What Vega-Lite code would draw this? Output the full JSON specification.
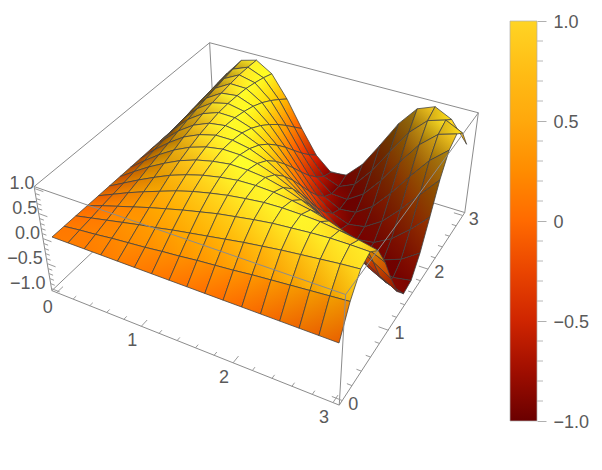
{"$schema":"https://vega.github.io/schema/vega-lite/v6.json","padding":0,"spacing":9,"config":{"view":{"stroke":null},"font":"Liberation Sans"},
"datasets":{
"surface":[
{"x":0,"y":3,"z":0},{"x":0.19,"y":3,"z":0.53},{"x":0.38,"y":3,"z":0.9},{"x":0.56,"y":3,"z":0.99},{"x":0.75,"y":3,"z":0.78},{"x":0.94,"y":3,"z":0.32},{"x":1.13,"y":3,"z":-0.23},{"x":1.31,"y":3,"z":-0.71},{"x":1.5,"y":3,"z":-0.98},{"x":1.69,"y":3,"z":-0.94},{"x":1.88,"y":3,"z":-0.61},{"x":2.06,"y":3,"z":-0.1},{"x":2.25,"y":3,"z":0.45},{"x":2.44,"y":3,"z":0.86},{"x":2.63,"y":3,"z":1},{"x":2.81,"y":3,"z":0.83},{"x":3,"y":3,"z":0.41},
{"x":0,"y":2.81,"z":0},{"x":0.19,"y":2.81,"z":0.5},{"x":0.38,"y":2.81,"z":0.87},{"x":0.56,"y":2.81,"z":1},{"x":0.75,"y":2.81,"z":0.86},{"x":0.94,"y":2.81,"z":0.48},{"x":1.13,"y":2.81,"z":-0.02},{"x":1.31,"y":2.81,"z":-0.52},{"x":1.5,"y":2.81,"z":-0.88},{"x":1.69,"y":2.81,"z":-1},{"x":1.88,"y":2.81,"z":-0.85},{"x":2.06,"y":2.81,"z":-0.46},{"x":2.25,"y":2.81,"z":0.04},{"x":2.44,"y":2.81,"z":0.54},{"x":2.63,"y":2.81,"z":0.89},{"x":2.81,"y":2.81,"z":1},{"x":3,"y":2.81,"z":0.83},
{"x":0,"y":2.63,"z":0},{"x":0.19,"y":2.63,"z":0.47},{"x":0.38,"y":2.63,"z":0.83},{"x":0.56,"y":2.63,"z":1},{"x":0.75,"y":2.63,"z":0.92},{"x":0.94,"y":2.63,"z":0.63},{"x":1.13,"y":2.63,"z":0.19},{"x":1.31,"y":2.63,"z":-0.3},{"x":1.5,"y":2.63,"z":-0.71},{"x":1.69,"y":2.63,"z":-0.96},{"x":1.88,"y":2.63,"z":-0.98},{"x":2.06,"y":2.63,"z":-0.76},{"x":2.25,"y":2.63,"z":-0.37},{"x":2.44,"y":2.63,"z":0.11},{"x":2.63,"y":2.63,"z":0.57},{"x":2.81,"y":2.63,"z":0.89},{"x":3,"y":2.63,"z":1},
{"x":0,"y":2.44,"z":0},{"x":0.19,"y":2.44,"z":0.44},{"x":0.38,"y":2.44,"z":0.79},{"x":0.56,"y":2.44,"z":0.98},{"x":0.75,"y":2.44,"z":0.97},{"x":0.94,"y":2.44,"z":0.76},{"x":1.13,"y":2.44,"z":0.39},{"x":1.31,"y":2.44,"z":-0.06},{"x":1.5,"y":2.44,"z":-0.49},{"x":1.69,"y":2.44,"z":-0.83},{"x":1.88,"y":2.44,"z":-0.99},{"x":2.06,"y":2.44,"z":-0.95},{"x":2.25,"y":2.44,"z":-0.72},{"x":2.44,"y":2.44,"z":-0.34},{"x":2.63,"y":2.44,"z":0.11},{"x":2.81,"y":2.44,"z":0.54},{"x":3,"y":2.44,"z":0.86},
{"x":0,"y":2.25,"z":0},{"x":0.19,"y":2.25,"z":0.41},{"x":0.38,"y":2.25,"z":0.75},{"x":0.56,"y":2.25,"z":0.95},{"x":0.75,"y":2.25,"z":0.99},{"x":0.94,"y":2.25,"z":0.86},{"x":1.13,"y":2.25,"z":0.57},{"x":1.31,"y":2.25,"z":0.19},{"x":1.5,"y":2.25,"z":-0.23},{"x":1.69,"y":2.25,"z":-0.61},{"x":1.88,"y":2.25,"z":-0.88},{"x":2.06,"y":2.25,"z":-1},{"x":2.25,"y":2.25,"z":-0.94},{"x":2.44,"y":2.25,"z":-0.72},{"x":2.63,"y":2.25,"z":-0.37},{"x":2.81,"y":2.25,"z":0.04},{"x":3,"y":2.25,"z":0.45},
{"x":0,"y":2.06,"z":0},{"x":0.19,"y":2.06,"z":0.38},{"x":0.38,"y":2.06,"z":0.7},{"x":0.56,"y":2.06,"z":0.92},{"x":0.75,"y":2.06,"z":1},{"x":0.94,"y":2.06,"z":0.93},{"x":1.13,"y":2.06,"z":0.73},{"x":1.31,"y":2.06,"z":0.42},{"x":1.5,"y":2.06,"z":0.05},{"x":1.69,"y":2.06,"z":-0.33},{"x":1.88,"y":2.06,"z":-0.66},{"x":2.06,"y":2.06,"z":-0.9},{"x":2.25,"y":2.06,"z":-1},{"x":2.44,"y":2.06,"z":-0.95},{"x":2.63,"y":2.06,"z":-0.76},{"x":2.81,"y":2.06,"z":-0.46},{"x":3,"y":2.06,"z":-0.1},
{"x":0,"y":1.88,"z":0},{"x":0.19,"y":1.88,"z":0.34},{"x":0.38,"y":1.88,"z":0.65},{"x":0.56,"y":1.88,"z":0.87},{"x":0.75,"y":1.88,"z":0.99},{"x":0.94,"y":1.88,"z":0.98},{"x":1.13,"y":1.88,"z":0.86},{"x":1.31,"y":1.88,"z":0.63},{"x":1.5,"y":1.88,"z":0.32},{"x":1.69,"y":1.88,"z":-0.02},{"x":1.88,"y":1.88,"z":-0.37},{"x":2.06,"y":1.88,"z":-0.66},{"x":2.25,"y":1.88,"z":-0.88},{"x":2.44,"y":1.88,"z":-0.99},{"x":2.63,"y":1.88,"z":-0.98},{"x":2.81,"y":1.88,"z":-0.85},{"x":3,"y":1.88,"z":-0.61},
{"x":0,"y":1.69,"z":0},{"x":0.19,"y":1.69,"z":0.31},{"x":0.38,"y":1.69,"z":0.59},{"x":0.56,"y":1.69,"z":0.81},{"x":0.75,"y":1.69,"z":0.95},{"x":0.94,"y":1.69,"z":1},{"x":1.13,"y":1.69,"z":0.95},{"x":1.31,"y":1.69,"z":0.8},{"x":1.5,"y":1.69,"z":0.57},{"x":1.69,"y":1.69,"z":0.29},{"x":1.88,"y":1.69,"z":-0.02},{"x":2.06,"y":1.69,"z":-0.33},{"x":2.25,"y":1.69,"z":-0.61},{"x":2.44,"y":1.69,"z":-0.83},{"x":2.63,"y":1.69,"z":-0.96},{"x":2.81,"y":1.69,"z":-1},{"x":3,"y":1.69,"z":-0.94},
{"x":0,"y":1.5,"z":0},{"x":0.19,"y":1.5,"z":0.28},{"x":0.38,"y":1.5,"z":0.53},{"x":0.56,"y":1.5,"z":0.75},{"x":0.75,"y":1.5,"z":0.9},{"x":0.94,"y":1.5,"z":0.99},{"x":1.13,"y":1.5,"z":0.99},{"x":1.31,"y":1.5,"z":0.92},{"x":1.5,"y":1.5,"z":0.78},{"x":1.69,"y":1.5,"z":0.57},{"x":1.88,"y":1.5,"z":0.32},{"x":2.06,"y":1.5,"z":0.05},{"x":2.25,"y":1.5,"z":-0.23},{"x":2.44,"y":1.5,"z":-0.49},{"x":2.63,"y":1.5,"z":-0.71},{"x":2.81,"y":1.5,"z":-0.88},{"x":3,"y":1.5,"z":-0.98},
{"x":0,"y":1.31,"z":0},{"x":0.19,"y":1.31,"z":0.24},{"x":0.38,"y":1.31,"z":0.47},{"x":0.56,"y":1.31,"z":0.67},{"x":0.75,"y":1.31,"z":0.83},{"x":0.94,"y":1.31,"z":0.94},{"x":1.13,"y":1.31,"z":1},{"x":1.31,"y":1.31,"z":0.99},{"x":1.5,"y":1.31,"z":0.92},{"x":1.69,"y":1.31,"z":0.8},{"x":1.88,"y":1.31,"z":0.63},{"x":2.06,"y":1.31,"z":0.42},{"x":2.25,"y":1.31,"z":0.19},{"x":2.44,"y":1.31,"z":-0.06},{"x":2.63,"y":1.31,"z":-0.3},{"x":2.81,"y":1.31,"z":-0.52},{"x":3,"y":1.31,"z":-0.71},
{"x":0,"y":1.13,"z":0},{"x":0.19,"y":1.13,"z":0.21},{"x":0.38,"y":1.13,"z":0.41},{"x":0.56,"y":1.13,"z":0.59},{"x":0.75,"y":1.13,"z":0.75},{"x":0.94,"y":1.13,"z":0.87},{"x":1.13,"y":1.13,"z":0.95},{"x":1.31,"y":1.13,"z":1},{"x":1.5,"y":1.13,"z":0.99},{"x":1.69,"y":1.13,"z":0.95},{"x":1.88,"y":1.13,"z":0.86},{"x":2.06,"y":1.13,"z":0.73},{"x":2.25,"y":1.13,"z":0.57},{"x":2.44,"y":1.13,"z":0.39},{"x":2.63,"y":1.13,"z":0.19},{"x":2.81,"y":1.13,"z":-0.02},{"x":3,"y":1.13,"z":-0.23},
{"x":0,"y":0.94,"z":0},{"x":0.19,"y":0.94,"z":0.17},{"x":0.38,"y":0.94,"z":0.34},{"x":0.56,"y":0.94,"z":0.5},{"x":0.75,"y":0.94,"z":0.65},{"x":0.94,"y":0.94,"z":0.77},{"x":1.13,"y":0.94,"z":0.87},{"x":1.31,"y":0.94,"z":0.94},{"x":1.5,"y":0.94,"z":0.99},{"x":1.69,"y":0.94,"z":1},{"x":1.88,"y":0.94,"z":0.98},{"x":2.06,"y":0.94,"z":0.93},{"x":2.25,"y":0.94,"z":0.86},{"x":2.44,"y":0.94,"z":0.76},{"x":2.63,"y":0.94,"z":0.63},{"x":2.81,"y":0.94,"z":0.48},{"x":3,"y":0.94,"z":0.32},
{"x":0,"y":0.75,"z":0},{"x":0.19,"y":0.75,"z":0.14},{"x":0.38,"y":0.75,"z":0.28},{"x":0.56,"y":0.75,"z":0.41},{"x":0.75,"y":0.75,"z":0.53},{"x":0.94,"y":0.75,"z":0.65},{"x":1.13,"y":0.75,"z":0.75},{"x":1.31,"y":0.75,"z":0.83},{"x":1.5,"y":0.75,"z":0.9},{"x":1.69,"y":0.75,"z":0.95},{"x":1.88,"y":0.75,"z":0.99},{"x":2.06,"y":0.75,"z":1},{"x":2.25,"y":0.75,"z":0.99},{"x":2.44,"y":0.75,"z":0.97},{"x":2.63,"y":0.75,"z":0.92},{"x":2.81,"y":0.75,"z":0.86},{"x":3,"y":0.75,"z":0.78},
{"x":0,"y":0.56,"z":0},{"x":0.19,"y":0.56,"z":0.11},{"x":0.38,"y":0.56,"z":0.21},{"x":0.56,"y":0.56,"z":0.31},{"x":0.75,"y":0.56,"z":0.41},{"x":0.94,"y":0.56,"z":0.5},{"x":1.13,"y":0.56,"z":0.59},{"x":1.31,"y":0.56,"z":0.67},{"x":1.5,"y":0.56,"z":0.75},{"x":1.69,"y":0.56,"z":0.81},{"x":1.88,"y":0.56,"z":0.87},{"x":2.06,"y":0.56,"z":0.92},{"x":2.25,"y":0.56,"z":0.95},{"x":2.44,"y":0.56,"z":0.98},{"x":2.63,"y":0.56,"z":1},{"x":2.81,"y":0.56,"z":1},{"x":3,"y":0.56,"z":0.99},
{"x":0,"y":0.38,"z":0},{"x":0.19,"y":0.38,"z":0.07},{"x":0.38,"y":0.38,"z":0.14},{"x":0.56,"y":0.38,"z":0.21},{"x":0.75,"y":0.38,"z":0.28},{"x":0.94,"y":0.38,"z":0.34},{"x":1.13,"y":0.38,"z":0.41},{"x":1.31,"y":0.38,"z":0.47},{"x":1.5,"y":0.38,"z":0.53},{"x":1.69,"y":0.38,"z":0.59},{"x":1.88,"y":0.38,"z":0.65},{"x":2.06,"y":0.38,"z":0.7},{"x":2.25,"y":0.38,"z":0.75},{"x":2.44,"y":0.38,"z":0.79},{"x":2.63,"y":0.38,"z":0.83},{"x":2.81,"y":0.38,"z":0.87},{"x":3,"y":0.38,"z":0.9},
{"x":0,"y":0.19,"z":0},{"x":0.19,"y":0.19,"z":0.04},{"x":0.38,"y":0.19,"z":0.07},{"x":0.56,"y":0.19,"z":0.11},{"x":0.75,"y":0.19,"z":0.14},{"x":0.94,"y":0.19,"z":0.17},{"x":1.13,"y":0.19,"z":0.21},{"x":1.31,"y":0.19,"z":0.24},{"x":1.5,"y":0.19,"z":0.28},{"x":1.69,"y":0.19,"z":0.31},{"x":1.88,"y":0.19,"z":0.34},{"x":2.06,"y":0.19,"z":0.38},{"x":2.25,"y":0.19,"z":0.41},{"x":2.44,"y":0.19,"z":0.44},{"x":2.63,"y":0.19,"z":0.47},{"x":2.81,"y":0.19,"z":0.5},{"x":3,"y":0.19,"z":0.53},
{"x":0,"y":0,"z":0},{"x":0.19,"y":0,"z":0},{"x":0.38,"y":0,"z":0},{"x":0.56,"y":0,"z":0},{"x":0.75,"y":0,"z":0},{"x":0.94,"y":0,"z":0},{"x":1.13,"y":0,"z":0},{"x":1.31,"y":0,"z":0},{"x":1.5,"y":0,"z":0},{"x":1.69,"y":0,"z":0},{"x":1.88,"y":0,"z":0},{"x":2.06,"y":0,"z":0},{"x":2.25,"y":0,"z":0},{"x":2.44,"y":0,"z":0},{"x":2.63,"y":0,"z":0},{"x":2.81,"y":0,"z":0},{"x":3,"y":0,"z":0}
],
"back":[
{"x":-0.06,"y":3.06,"z":1.04,"xe":-0.06,"ye":-0.06,"ze":1.04},{"x":-0.06,"y":3.06,"z":1.04,"xe":3.06,"ye":3.06,"ze":1.04},{"x":-0.06,"y":3.06,"z":1.04,"xe":-0.06,"ye":3.06,"ze":-1.04},{"x":-0.06,"y":3.06,"z":-1.04,"xe":-0.06,"ye":-0.06,"ze":-1.04},{"x":-0.06,"y":3.06,"z":-1.04,"xe":3.06,"ye":3.06,"ze":-1.04}
],
"front":[
{"x":-0.06,"y":-0.06,"z":1.04,"xe":-0.06,"ye":-0.06,"ze":-1.04},{"x":3.06,"y":-0.06,"z":1.04,"xe":3.06,"ye":-0.06,"ze":-1.04},{"x":3.06,"y":3.06,"z":1.04,"xe":3.06,"ye":3.06,"ze":-1.04},{"x":-0.06,"y":-0.06,"z":1.04,"xe":3.06,"ye":-0.06,"ze":1.04},{"x":3.06,"y":-0.06,"z":1.04,"xe":3.06,"ye":3.06,"ze":1.04},{"x":-0.06,"y":-0.06,"z":-1.04,"xe":3.06,"ye":-0.06,"ze":-1.04},{"x":3.06,"y":-0.06,"z":-1.04,"xe":3.06,"ye":3.06,"ze":-1.04}
],
"ticks":[
{"a":"x","p":0,"m":1},{"a":"x","p":0.2,"m":0},{"a":"x","p":0.4,"m":0},{"a":"x","p":0.6,"m":0},{"a":"x","p":0.8,"m":0},{"a":"x","p":1,"m":1},{"a":"x","p":1.2,"m":0},{"a":"x","p":1.4,"m":0},{"a":"x","p":1.6,"m":0},{"a":"x","p":1.8,"m":0},{"a":"x","p":2,"m":1},{"a":"x","p":2.2,"m":0},{"a":"x","p":2.4,"m":0},{"a":"x","p":2.6,"m":0},{"a":"x","p":2.8,"m":0},{"a":"x","p":3,"m":1},
{"a":"y","p":0,"m":1},{"a":"y","p":0.2,"m":0},{"a":"y","p":0.4,"m":0},{"a":"y","p":0.6,"m":0},{"a":"y","p":0.8,"m":0},{"a":"y","p":1,"m":1},{"a":"y","p":1.2,"m":0},{"a":"y","p":1.4,"m":0},{"a":"y","p":1.6,"m":0},{"a":"y","p":1.8,"m":0},{"a":"y","p":2,"m":1},{"a":"y","p":2.2,"m":0},{"a":"y","p":2.4,"m":0},{"a":"y","p":2.6,"m":0},{"a":"y","p":2.8,"m":0},{"a":"y","p":3,"m":1},
{"a":"z","p":-1,"m":1},{"a":"z","p":-0.9,"m":0},{"a":"z","p":-0.8,"m":0},{"a":"z","p":-0.7,"m":0},{"a":"z","p":-0.6,"m":0},{"a":"z","p":-0.5,"m":1},{"a":"z","p":-0.4,"m":0},{"a":"z","p":-0.3,"m":0},{"a":"z","p":-0.2,"m":0},{"a":"z","p":-0.1,"m":0},{"a":"z","p":0,"m":1},{"a":"z","p":0.1,"m":0},{"a":"z","p":0.2,"m":0},{"a":"z","p":0.3,"m":0},{"a":"z","p":0.4,"m":0},{"a":"z","p":0.5,"m":1},{"a":"z","p":0.6,"m":0},{"a":"z","p":0.7,"m":0},{"a":"z","p":0.8,"m":0},{"a":"z","p":0.9,"m":0},{"a":"z","p":1,"m":1}
],
"labels":[
{"a":"x","p":0,"lab":"0"},{"a":"x","p":1,"lab":"1"},{"a":"x","p":2,"lab":"2"},{"a":"x","p":3,"lab":"3"},
{"a":"y","p":0,"lab":"0"},{"a":"y","p":1,"lab":"1"},{"a":"y","p":2,"lab":"2"},{"a":"y","p":3,"lab":"3"},
{"a":"z","p":-1,"lab":"−1.0"},{"a":"z","p":-0.5,"lab":"−0.5"},{"a":"z","p":0,"lab":"0.0"},{"a":"z","p":0.5,"lab":"0.5"},{"a":"z","p":1,"lab":"1.0"}
],
"bar":[{"v":-1,"v2":1}],
"minor":[{"v":-0.9},{"v":-0.8},{"v":-0.7},{"v":-0.6},{"v":-0.4},{"v":-0.3},{"v":-0.2},{"v":-0.1},{"v":0.1},{"v":0.2},{"v":0.3},{"v":0.4},{"v":0.6},{"v":0.7},{"v":0.8},{"v":0.9}]
},
"hconcat":[
{"width":500,"height":470,"layer":[
{"data":{"name":"back"},
"transform":[
{"calculate":"datum.x/3","as":"s"},{"calculate":"datum.y/3","as":"t"},{"calculate":"1-0.1142*datum.s+0.2051*datum.t","as":"w"},
{"calculate":"(52+248.3*datum.s+205.9*datum.t)/datum.w+datum.z*(-8.2+11.1*datum.s+5.8*datum.t-2.4*datum.s*datum.t)","as":"u"},
{"calculate":"(237+66.8*datum.s-124.9*datum.t)/datum.w-datum.z*(50+3*datum.s-5*datum.t)","as":"v"},
{"calculate":"datum.xe/3","as":"s2"},{"calculate":"datum.ye/3","as":"t2"},{"calculate":"1-0.1142*datum.s2+0.2051*datum.t2","as":"w2"},
{"calculate":"(52+248.3*datum.s2+205.9*datum.t2)/datum.w2+datum.ze*(-8.2+11.1*datum.s2+5.8*datum.t2-2.4*datum.s2*datum.t2)","as":"u2"},
{"calculate":"(237+66.8*datum.s2-124.9*datum.t2)/datum.w2-datum.ze*(50+3*datum.s2-5*datum.t2)","as":"v2"}],
"mark":{"type":"rule","color":"#8c8c8c","strokeWidth":1},
"encoding":{"x":{"field":"u","type":"quantitative","axis":null,"scale":{"domain":[0,500],"nice":false,"zero":false}},"y":{"field":"v","type":"quantitative","axis":null,"scale":{"domain":[0,470],"reverse":true,"nice":false,"zero":false}},"x2":{"field":"u2"},"y2":{"field":"v2"}}},
{"data":{"name":"surface"},
"transform":[
{"calculate":"round(datum.x/0.1875)","as":"i"},{"calculate":"round(datum.y/0.1875)","as":"j"},
{"calculate":"datum.i/16","as":"s"},{"calculate":"datum.j/16","as":"t"},{"calculate":"1-0.1142*datum.s+0.2051*datum.t","as":"w"},
{"calculate":"(52+248.3*datum.s+205.9*datum.t)/datum.w+datum.z*(-8.2+11.1*datum.s+5.8*datum.t-2.4*datum.s*datum.t)","as":"u"},
{"calculate":"(237+66.8*datum.s-124.9*datum.t)/datum.w-datum.z*(50+3*datum.s-5*datum.t)","as":"v"},
{"calculate":"[0,1,2,3]","as":"k"},{"flatten":["k"]},
{"calculate":"(datum.k==1||datum.k==2)?1:0","as":"di"},{"calculate":"datum.k>=2?1:0","as":"dj"},
{"calculate":"datum.i-datum.di","as":"ci"},{"calculate":"datum.j-datum.dj","as":"cj"},
{"filter":"datum.ci>=0&&datum.ci<16&&datum.cj>=0&&datum.cj<16"},
{"calculate":"'c'+datum.ci+'_'+datum.cj","as":"cell"},
{"calculate":"datum.di?datum.z:-datum.z","as":"sx"},{"calculate":"datum.dj?datum.z:-datum.z","as":"sy"},
{"joinaggregate":[{"op":"sum","field":"sx","as":"gxs"},{"op":"sum","field":"sy","as":"gys"}],"groupby":["cell"]},
{"calculate":"-0.6*datum.gxs/0.375","as":"nx"},{"calculate":"-0.6*datum.gys/0.375","as":"ny"},
{"calculate":"0.35+(datum.nx*0.5-datum.ny*0.15+0.8)/(0.95*sqrt(datum.nx*datum.nx+datum.ny*datum.ny+1))","as":"L"},
{"joinaggregate":[{"op":"mean","field":"L","as":"vL"}],"groupby":["i","j"]},
{"calculate":"min(255,106+202*(datum.z+1))","as":"r0"},
{"calculate":"datum.z<-0.5?74*(datum.z+1):datum.z<0?37+138*(datum.z+0.5):datum.z<0.5?106+124*datum.z:168+88*(datum.z-0.5)","as":"g0"},
{"calculate":"datum.z<0.5?0:(datum.z-0.5)*72","as":"b0"},
{"calculate":"0.3*datum.r0*datum.vL+0.6*datum.g0*datum.vL+0.1*datum.b0*datum.vL","as":"lum"},
{"calculate":"'rgb('+round(min(255,datum.r0*datum.vL))+','+round(min(255,datum.g0*datum.vL))+','+round(min(255,datum.b0*datum.vL))+')'","as":"vc"},
{"joinaggregate":[{"op":"values","field":"k","as":"vals"},{"op":"min","field":"u","as":"u0"},{"op":"max","field":"u","as":"u1"},{"op":"min","field":"v","as":"v0"},{"op":"max","field":"v","as":"v1"}],"groupby":["cell"]},
{"calculate":"abs(datum.vals[1].lum-datum.vals[2].lum)>=abs(datum.vals[0].lum-datum.vals[3].lum)?[datum.vals[2],datum.vals[1]]:[datum.vals[0],datum.vals[3]]","as":"dg"},
{"calculate":"{gradient:'linear',x1:(datum.dg[0].u-datum.u0)/(datum.u1-datum.u0),y1:(datum.dg[0].v-datum.v0)/(datum.v1-datum.v0),x2:(datum.dg[1].u-datum.u0)/(datum.u1-datum.u0),y2:(datum.dg[1].v-datum.v0)/(datum.v1-datum.v0),stops:[{offset:0,color:datum.dg[0].vc},{offset:1,color:datum.dg[1].vc}]}","as":"col"}],
"mark":{"type":"line","interpolate":"linear-closed","stroke":"#3f3f3f","strokeWidth":0.9,"strokeJoin":"round","strokeOpacity":0.85},
"encoding":{"x":{"field":"u","type":"quantitative"},"y":{"field":"v","type":"quantitative"},"detail":{"field":"cell"},"order":{"field":"k"},"fill":{"field":"col","type":"nominal","scale":null}}},
{"data":{"name":"front"},
"transform":[
{"calculate":"datum.x/3","as":"s"},{"calculate":"datum.y/3","as":"t"},{"calculate":"1-0.1142*datum.s+0.2051*datum.t","as":"w"},
{"calculate":"(52+248.3*datum.s+205.9*datum.t)/datum.w+datum.z*(-8.2+11.1*datum.s+5.8*datum.t-2.4*datum.s*datum.t)","as":"u"},
{"calculate":"(237+66.8*datum.s-124.9*datum.t)/datum.w-datum.z*(50+3*datum.s-5*datum.t)","as":"v"},
{"calculate":"datum.xe/3","as":"s2"},{"calculate":"datum.ye/3","as":"t2"},{"calculate":"1-0.1142*datum.s2+0.2051*datum.t2","as":"w2"},
{"calculate":"(52+248.3*datum.s2+205.9*datum.t2)/datum.w2+datum.ze*(-8.2+11.1*datum.s2+5.8*datum.t2-2.4*datum.s2*datum.t2)","as":"u2"},
{"calculate":"(237+66.8*datum.s2-124.9*datum.t2)/datum.w2-datum.ze*(50+3*datum.s2-5*datum.t2)","as":"v2"}],
"mark":{"type":"rule","color":"#8c8c8c","strokeWidth":1},
"encoding":{"x":{"field":"u","type":"quantitative"},"y":{"field":"v","type":"quantitative"},"x2":{"field":"u2"},"y2":{"field":"v2"}}},
{"data":{"name":"ticks"},
"transform":[
{"calculate":"datum.m?0.1:0.05","as":"L"},
{"calculate":"datum.a=='x'?datum.p:datum.a=='y'?3.06:-0.06","as":"x"},{"calculate":"datum.a=='y'?datum.p:-0.06","as":"y"},{"calculate":"datum.a=='z'?datum.p:-1.04","as":"z"},
{"calculate":"datum.x+(datum.a=='y'?-datum.L:datum.a=='z'?datum.L:0)","as":"xe"},{"calculate":"datum.y+(datum.a=='x'?datum.L:0)","as":"ye"},
{"calculate":"datum.x/3","as":"s"},{"calculate":"datum.y/3","as":"t"},{"calculate":"1-0.1142*datum.s+0.2051*datum.t","as":"w"},
{"calculate":"(52+248.3*datum.s+205.9*datum.t)/datum.w+datum.z*(-8.2+11.1*datum.s+5.8*datum.t-2.4*datum.s*datum.t)","as":"u"},
{"calculate":"(237+66.8*datum.s-124.9*datum.t)/datum.w-datum.z*(50+3*datum.s-5*datum.t)","as":"v"},
{"calculate":"datum.xe/3","as":"s2"},{"calculate":"datum.ye/3","as":"t2"},{"calculate":"1-0.1142*datum.s2+0.2051*datum.t2","as":"w2"},
{"calculate":"(52+248.3*datum.s2+205.9*datum.t2)/datum.w2+datum.z*(-8.2+11.1*datum.s2+5.8*datum.t2-2.4*datum.s2*datum.t2)","as":"u2"},
{"calculate":"(237+66.8*datum.s2-124.9*datum.t2)/datum.w2-datum.z*(50+3*datum.s2-5*datum.t2)","as":"v2"}],
"mark":{"type":"rule","color":"#9a9a9a","strokeWidth":1},
"encoding":{"x":{"field":"u","type":"quantitative"},"y":{"field":"v","type":"quantitative"},"x2":{"field":"u2"},"y2":{"field":"v2"}}},
{"data":{"name":"labels"},
"transform":[
{"filter":"datum.a!='z'"},
{"calculate":"datum.a=='x'?datum.p:3.06","as":"x"},{"calculate":"datum.a=='y'?datum.p:-0.06","as":"y"},
{"calculate":"datum.x/3","as":"s"},{"calculate":"datum.y/3","as":"t"},{"calculate":"1-0.1142*datum.s+0.2051*datum.t","as":"w"},
{"calculate":"(52+248.3*datum.s+205.9*datum.t)/datum.w-1.04*(-8.2+11.1*datum.s+5.8*datum.t-2.4*datum.s*datum.t)+(datum.a=='x'?-9:11)","as":"u"},
{"calculate":"(237+66.8*datum.s-124.9*datum.t)/datum.w+1.04*(50+3*datum.s-5*datum.t)+(datum.a=='x'?15:4)","as":"v"}],
"mark":{"type":"text","fontSize":18,"color":"#5a5a5a","align":"center","baseline":"middle"},
"encoding":{"x":{"field":"u","type":"quantitative"},"y":{"field":"v","type":"quantitative"},"text":{"field":"lab"}}},
{"data":{"name":"labels"},
"transform":[
{"filter":"datum.a=='z'"},
{"calculate":"-0.02","as":"s"},{"calculate":"-0.02","as":"t"},{"calculate":"1-0.1142*datum.s+0.2051*datum.t","as":"w"},
{"calculate":"(52+248.3*datum.s+205.9*datum.t)/datum.w+datum.p*(-8.2+11.1*datum.s+5.8*datum.t-2.4*datum.s*datum.t)-3+3*datum.p","as":"u"},
{"calculate":"(237+66.8*datum.s-124.9*datum.t)/datum.w-datum.p*(50+3*datum.s-5*datum.t)-5","as":"v"}],
"mark":{"type":"text","fontSize":18,"color":"#5a5a5a","align":"right","baseline":"middle"},
"encoding":{"x":{"field":"u","type":"quantitative"},"y":{"field":"v","type":"quantitative"},"text":{"field":"lab"}}}
]},
{"width":27,"height":470,"layer":[
{"data":{"name":"bar"},"mark":{"type":"rect","stroke":"#b0b0b0","strokeWidth":0.7,"fill":{"gradient":"linear","x1":0,"y1":1,"x2":0,"y2":0,"stops":[{"offset":0,"color":"#6a0000"},{"offset":0.125,"color":"#a00e00"},{"offset":0.25,"color":"#cf2500"},{"offset":0.375,"color":"#ea4500"},{"offset":0.5,"color":"#ff6a00"},{"offset":0.625,"color":"#ff8c00"},{"offset":0.75,"color":"#ffa80c"},{"offset":0.875,"color":"#ffbd15"},{"offset":1,"color":"#ffd424"}]}},
"encoding":{"x":{"value":0},"x2":{"value":27},
"y":{"field":"v","type":"quantitative","scale":{"domain":[-1,1],"range":[421,21],"nice":false,"zero":false},"axis":{"orient":"right","title":null,"values":[-1,-0.5,0,0.5,1],"domain":false,"grid":false,"tickColor":"#b0b0b0","tickSize":9,"labelFontSize":18,"labelColor":"#5a5a5a","labelPadding":7,"labelOffset":1.5,"labelExpr":"datum.value==0?'0':replace(format(datum.value,'.1f'),'-','−')"}},
"y2":{"field":"v2"}}},
{"data":{"name":"minor"},"mark":{"type":"rule","color":"#b8b8b8","strokeWidth":1},
"encoding":{"x":{"value":27},"x2":{"value":33},"y":{"field":"v","type":"quantitative"}}}
]}
]}
